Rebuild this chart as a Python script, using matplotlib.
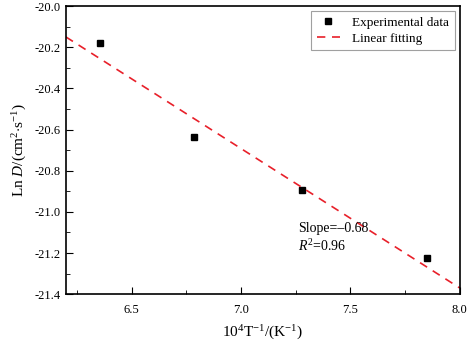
import matplotlib
matplotlib.use('Agg')
from matplotlib import pyplot as plt
from matplotlib.ticker import MultipleLocator

# experimental points
inv_t = [6.355, 6.786, 7.277, 7.85]
ln_d = [-20.18, -20.635, -20.895, -21.225]

# linear fit end points
fit_x = [6.2, 8.0]
fit_y = [-20.15, -21.37]

slope_text = 'Slope=\u20130.68'
r2_text = '$R^2$=0.96'

plt.rcParams['font.family'] = ['Liberation Serif', 'DejaVu Serif']
plt.rcParams['mathtext.fontset'] = 'custom'
plt.rcParams['mathtext.rm'] = 'Liberation Serif'
plt.rcParams['mathtext.it'] = 'Liberation Serif:italic'

fig = plt.figure(figsize=(4.74, 3.57), dpi=100)
ax = fig.add_axes([0.139, 0.176, 0.831, 0.807])

ax.plot(inv_t, ln_d, 's', color='black', markersize=5, label='Experimental data')
ax.plot(fit_x, fit_y, '--', color='#e8202a', linewidth=1.2, dashes=(5, 4), label='Linear fitting')

ax.set_xlim(6.2, 8.0)
ax.set_ylim(-21.4, -20.0)
ax.xaxis.set_major_locator(MultipleLocator(0.5))
ax.xaxis.set_minor_locator(MultipleLocator(0.25))
ax.yaxis.set_major_locator(MultipleLocator(0.2))
ax.yaxis.set_minor_locator(MultipleLocator(0.1))
ax.tick_params(which='both', direction='in', labelsize=9)
ax.tick_params(which='major', length=5)
ax.tick_params(which='minor', length=3)
ax.tick_params(axis='x', pad=7)
ax.yaxis.set_major_formatter(plt.FuncFormatter(lambda v, p: f'{v:.1f}'))
for s in ax.spines.values():
    s.set_linewidth(1.2)

ax.set_xlabel('10$^4$T$^{-1}$/(K$^{-1}$)', fontsize=11, labelpad=6)
ax.set_ylabel('Ln $D$/(cm$^2$$\\cdot$s$^{-1}$)', fontsize=11)

ax.text(7.26, -21.1, slope_text, fontsize=10)
ax.text(7.26, -21.19, r2_text, fontsize=10)

leg = ax.legend(loc='upper right', fontsize=9.5, frameon=True, fancybox=False,
                edgecolor='#888888', handlelength=1.8, borderpad=0.4, labelspacing=0.3,
                borderaxespad=0.4, handletextpad=0.9)
leg.get_frame().set_linewidth(0.8)

fig.savefig('out.png', dpi=100)
